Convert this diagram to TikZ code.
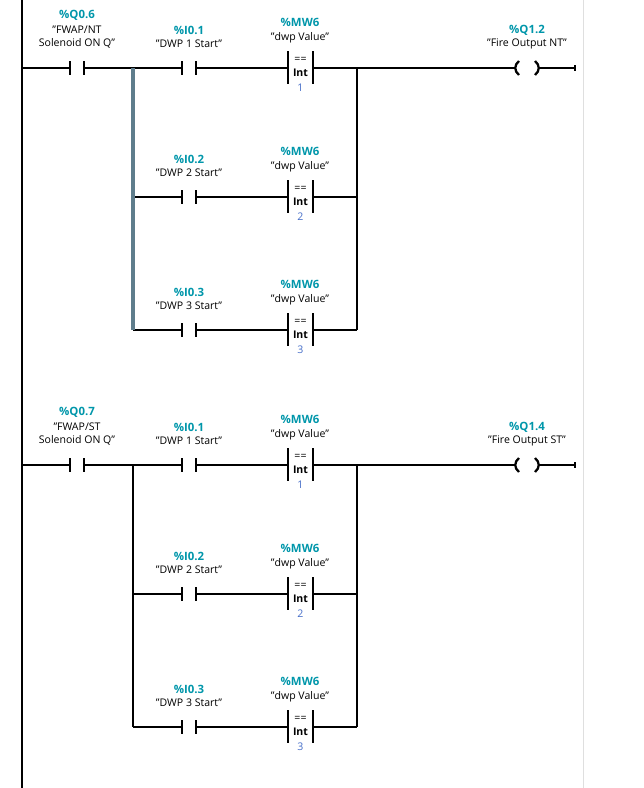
\documentclass[tikz,border=0pt]{standalone}
\usepackage{fontspec}
\setmainfont{Open Sans}[Ligatures=NoCommon]
\definecolor{addr}{RGB}{0,150,170}
\definecolor{val}{RGB}{70,110,200}
\definecolor{rail}{RGB}{95,125,140}
\newcommand{\q}{\symbol{34}}
\newcommand{\mycontact}[3]{%
  \path (#2-7,#3) coordinate (#1l) (#2+7,#3) coordinate (#1r);
  \draw[bar] (#2-7,#3-7) -- (#2-7,#3+7) (#2+7,#3-7) -- (#2+7,#3+7);}
\newcommand{\mycomp}[3]{%
  \path (288,#2) coordinate (#1l) (313,#2) coordinate (#1r);
  \draw[bar] (288,#2-17) -- (288,#2+16) (313,#2-17) -- (313,#2+16);
  \node[lbl] (#1eq) at (300.5,#2-8) {==};
  \node[lbl,font=\fontsize{6}{7}\selectfont\bfseries] (#1t) at (300.5,#2+5) {Int};
  \node[lbl,text=val] (#1v) at (300.5,#2+20) {#3};
  \node[adr] (#1a) at (300,#2-46) {\%MW6};
  \node[lbl] (#1n) at (300,#2-30) {\q dwp Value\q};}
\newcommand{\mybranch}[4]{%
  \mycontact{#1c}{189}{#2}
  \node[adr] (#1ca) at (189,#2-38) {\%I0.#3};
  \node[lbl] (#1cn) at (189,#2-24) {\q DWP #3 Start\q};
  \mycomp{#1k}{#2}{#4}}
\newcommand{\myrung}[6]{%
  \mycontact{#1m}{77}{#2}
  \node[adr] (#1ma) at (77,#2-53) {\%Q0.#3};
  \node[lbl] (#1mn) at (77,#2-31) {\q #4\\Solenoid ON Q\q};
  \mybranch{#1a}{#2}{1}{1}
  \mybranch{#1b}{#2+129}{2}{2}
  \mybranch{#1c}{#2+262}{3}{3}
  \path (22,#2) coordinate (#1st) (133,#2) coordinate (#1ja) (133,#2+262) coordinate (#1jc)
    (357,#2) coordinate (#1ka) (357,#2+262) coordinate (#1kc)
    (515,#2) coordinate (#1cl) (539,#2) coordinate (#1cr) (575,#2) coordinate (#1en);
  \draw[wire] (#1st) -- (#1ml) (#1mr) -- (#1ja) -- (#1acl) (#1acr) -- (#1akl) (#1akr) -- (#1ka) -- (#1cl);
  \draw[wire] (133,#2+129) -- (#1bcl) (#1bcr) -- (#1bkl) (#1bkr) -- (357,#2+129);
  \draw[wire] (#1jc) -- (#1ccl) (#1ccr) -- (#1ckl) (#1ckr) -- (#1kc);
  \draw[wire] (#1ka) -- (#1kc);
  \draw[line width=1.3pt] (519,#2-7) .. controls (514,#2-3) and (514,#2+3) .. (519,#2+7);
  \draw[line width=1.3pt] (535,#2-7) .. controls (540,#2-3) and (540,#2+3) .. (535,#2+7);
  \draw[wire] (#1cr) -- (#1en); \draw[line width=1pt] (575,#2-3) -- (575,#2+3);
  \node[adr] (#1qa) at (527,#2-38) {\%Q1.#5};
  \node[lbl] (#1qn) at (527,#2-24) {\q #6\q};}
\begin{document}
\begin{tikzpicture}[x=0.02cm,y=-0.02cm,
  lbl/.style={font=\fontsize{6}{7.5}\selectfont,inner sep=0pt,align=center},
  adr/.style={lbl,text=addr,font=\fontsize{6.5}{8}\selectfont\bfseries},
  wire/.style={line width=1.1pt},
  bar/.style={line width=1.3pt}]
\useasboundingbox (0,0) rectangle (643,788);
\draw[gray!25] (583,0) -- (583,788);
\draw[wire] (22,0) -- (22,788);
\myrung{r}{68}{6}{FWAP/NT}{2}{Fire Output NT}
\draw[rail,line width=2pt] (rja) -- (rjc);
\myrung{s}{465}{7}{FWAP/ST}{4}{Fire Output ST}
\draw[wire] (sja) -- (sjc);
\end{tikzpicture}
\end{document}
